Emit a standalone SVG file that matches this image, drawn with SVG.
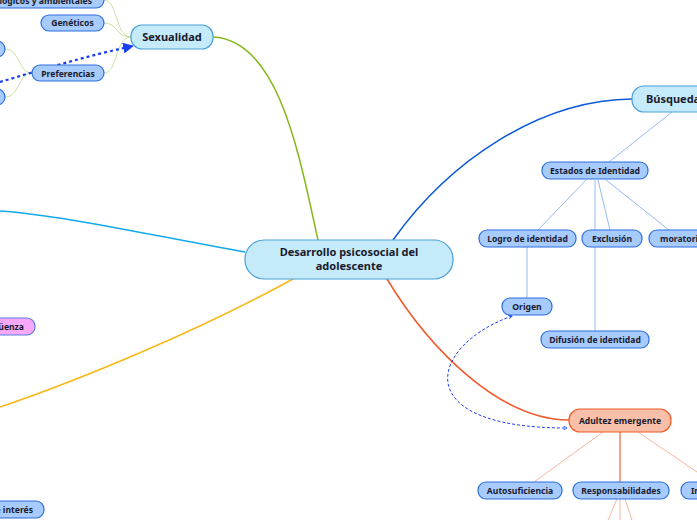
<svg xmlns="http://www.w3.org/2000/svg" width="697" height="520" viewBox="0 0 697 520">
<style>
text{font-family:"Noto Sans","Open Sans",sans-serif;font-weight:bold;fill:#1a1a2e;text-anchor:middle}
.sub rect{fill:#a6cbfc;stroke:#2f6fe0;stroke-width:1.2}
.sub text{font-size:8.6px}
.main rect{fill:#c5ebfb;stroke:#4a9fd8;stroke-width:1.2}
.main text{font-size:11px}
.thin{fill:none;stroke-width:0.8}
</style>
<defs>
<marker id="ar" viewBox="0 0 10 10" refX="9" refY="5" markerWidth="5" markerHeight="5" orient="auto"><path d="M0,0L10,5L0,10z" fill="#1a3ff0"/></marker>
<marker id="ar2" viewBox="0 0 10 10" refX="9" refY="5" markerWidth="4" markerHeight="4" orient="auto-start-reverse"><path d="M0,0L10,5L0,10" fill="none" stroke="#1a3ff0" stroke-width="2"/></marker>
</defs>
<g id="connectors">
<path d="M318,240 C300,160 280,40 213,37" fill="none" stroke="#84b818" stroke-width="1.5"/>
<path d="M245,252 C150,235 60,215 0,211" fill="none" stroke="#12a8ea" stroke-width="1.5"/>
<path d="M293,279 C200,330 80,380 0,407" fill="none" stroke="#fbb612" stroke-width="1.5"/>
<path d="M393,240 C450,160 540,100 632,99" fill="none" stroke="#0c5ad8" stroke-width="1.5"/>
<path d="M387,279 C430,350 500,420 569,420" fill="none" stroke="#f2582a" stroke-width="1.5"/>
<g class="thin" stroke="#b8d88a">
<path d="M131,37 C115,37 118,0 104,0"/>
<path d="M131,37 C115,37 118,23 104,23"/>
<path d="M131,37 C115,37 118,73 104,73"/>
<path d="M32,73 C18,73 20,49 5,49"/>
<path d="M32,73 C18,73 20,97 5,97"/>
</g>
<g class="thin" stroke="#7aa8f0">
<path d="M672,112 L609,162"/>
<path d="M586,180 L538,230"/>
<path d="M595,180 L595,331"/>
<path d="M598,180 L610,230"/>
<path d="M606,180 L669,230"/>
<path d="M527,247 L527,298"/>
</g>
<g class="thin" stroke="#f7a184">
<path d="M603,432 L534,482"/>
<path d="M620,432 L620,482" stroke-width="1.5" stroke="#f58060"/>
<path d="M638,432 L697,472"/>
<path d="M617,499 L608,520"/>
<path d="M620,499 L620,520"/>
<path d="M625,499 L632,520"/>
</g>
<path d="M0,82 C40,70 90,55 133,46" fill="none" stroke="#1a3ff0" stroke-width="2.2" stroke-dasharray="3,3" marker-end="url(#ar)"/>
<path d="M512,316 C430,345 405,428 567,428" fill="none" stroke="#1a3ff0" stroke-width="1" stroke-dasharray="3,2" marker-start="url(#ar2)" marker-end="url(#ar2)"/>
</g>
<g id="central" class="main"><rect x="245" y="240" width="208" height="39" rx="19"/><text x="349" y="256" font-size="10.5">Desarrollo psicosocial del</text><text x="349" y="269.5">adolescente</text></g>
<g id="sexualidad" class="main"><rect x="131" y="25" width="82" height="24" rx="11"/><text x="172" y="41">Sexualidad</text></g>
<g id="busqueda" class="main"><rect x="632" y="86" width="80" height="26" rx="12"/><text x="646" y="103" style="text-anchor:start">Búsqueda</text></g>
<g id="biologicos" class="sub"><rect x="-40" y="-8" width="144" height="16" rx="8"/><text x="92" y="4" style="text-anchor:end">Biológicos y ambientales</text></g>
<g id="geneticos" class="sub"><rect x="41" y="15" width="63" height="16" rx="8"/><text x="72.5" y="26">Genéticos</text></g>
<g id="preferencias" class="sub"><rect x="32" y="65" width="72" height="16" rx="8"/><text x="68" y="76.5">Preferencias</text></g>
<g id="pref1" class="sub"><rect x="-30" y="41" width="35" height="16" rx="8"/></g>
<g id="pref2" class="sub"><rect x="-30" y="89" width="35" height="16" rx="8"/></g>
<g id="estados" class="sub"><rect x="542" y="162" width="106" height="17" rx="8"/><text x="595" y="174">Estados de Identidad</text></g>
<g id="logro" class="sub"><rect x="479" y="230" width="97" height="17" rx="8"/><text x="527.5" y="242">Logro de identidad</text></g>
<g id="exclusion" class="sub"><rect x="582" y="230" width="60" height="17" rx="8"/><text x="612" y="242">Exclusión</text></g>
<g id="moratoria" class="sub"><rect x="649" y="230" width="70" height="17" rx="8"/><text x="660" y="242" style="text-anchor:start">moratoria</text></g>
<g id="origen" class="sub"><rect x="502" y="298" width="50" height="17" rx="8"/><text x="527" y="310">Origen</text></g>
<g id="difusion" class="sub"><rect x="541" y="331" width="108" height="17" rx="8"/><text x="595" y="343">Difusión de identidad</text></g>
<g id="adultez"><rect x="569" y="409" width="102" height="23" rx="11" fill="#f9bfa8" stroke="#f05a28" stroke-width="1.2"/><text x="620" y="424" font-size="8.6px">Adultez emergente</text></g>
<g id="autosuficiencia" class="sub"><rect x="478" y="482" width="84" height="17" rx="8"/><text x="520" y="494">Autosuficiencia</text></g>
<g id="responsabilidades" class="sub"><rect x="573" y="482" width="96" height="17" rx="8"/><text x="621" y="494">Responsabilidades</text></g>
<g id="independencia" class="sub"><rect x="681" y="482" width="80" height="17" rx="8"/><text x="691" y="494" style="text-anchor:start">Independencia</text></g>
<g id="verguenza"><rect x="-40" y="318" width="75" height="17" rx="8" fill="#f8a8f8" stroke="#5a7de0" stroke-width="1.2"/><text x="24" y="330" font-size="8.6px" style="text-anchor:end">Vergüenza</text></g>
<g id="interes" class="sub"><rect x="-50" y="501" width="94" height="17" rx="8"/><text x="33" y="513" style="text-anchor:end">Áreas de interés</text></g>
</svg>
